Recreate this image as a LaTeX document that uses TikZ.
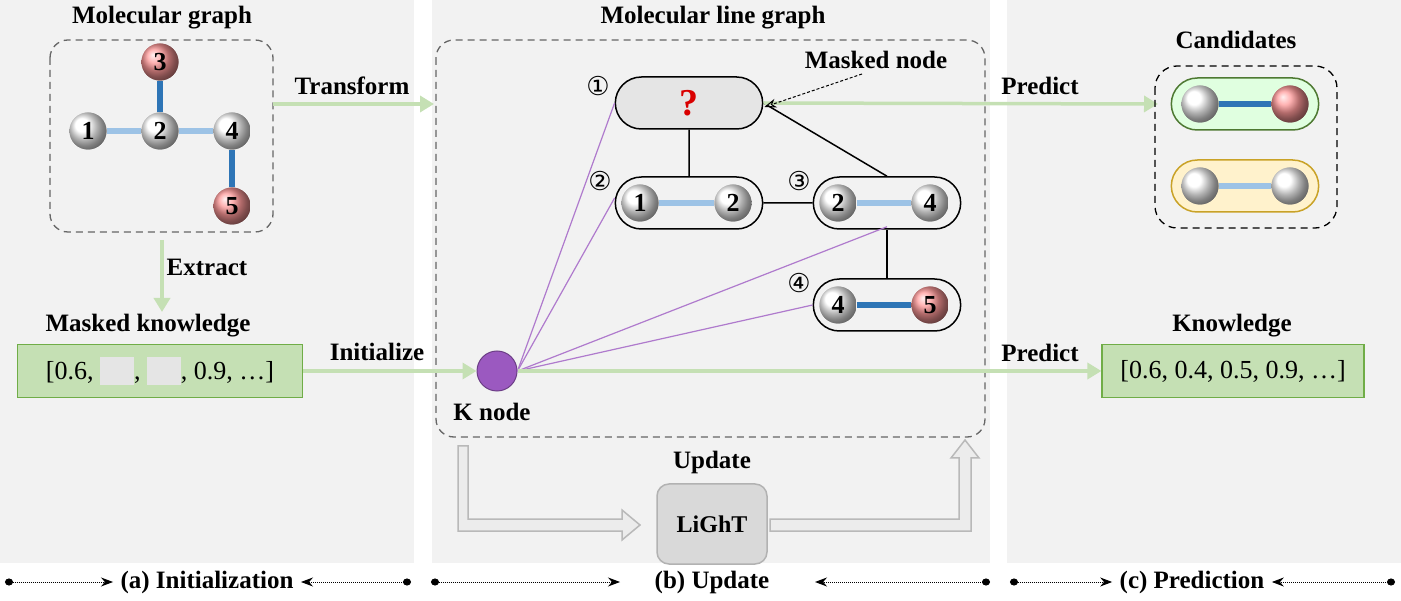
\documentclass[tikz,border=0pt]{standalone}
\usepackage{fontspec}
\setmainfont{Liberation Serif}
\newfontfamily\circfont{DejaVu Sans}
\usetikzlibrary{arrows.meta,positioning,shapes}

\definecolor{panelgray}{HTML}{F2F2F2}
\definecolor{bondlight}{HTML}{9DC3E6}
\definecolor{bonddark}{HTML}{2E75B6}
\definecolor{flowgreen}{HTML}{C5E0B4}
\definecolor{boxgreen}{HTML}{70AD47}
\definecolor{kpurple}{HTML}{9B59C0}
\definecolor{candyellow}{HTML}{FFF2CC}
\definecolor{candgold}{HTML}{C9A227}

\tikzset{
  title/.style={font=\fontsize{25}{28}\selectfont\bfseries},
  atom/.style={circle, minimum size=37pt, inner sep=0pt, shading=ball, ball color=white,
    font=\fontsize{26}{28}\selectfont\bfseries},
  oatom/.style={atom, ball color=red!40!white},
  lbond/.style={line width=6pt, bondlight},
  dbond/.style={line width=6pt, bonddark},
  pill/.style={rounded rectangle, draw, line width=1.5pt, minimum width=154pt, minimum height=52pt},
  flow/.style={line width=3.5pt, flowgreen, -{Triangle[length=14pt,width=16pt]}},
  kbox/.style={draw=boxgreen, line width=1.2pt, fill=flowgreen, minimum height=53pt,
    font=\fontsize{26}{30}\selectfont},
  circnum/.style={font=\circfont\fontsize{26}{28}\selectfont},
  panel/.style={fill=panelgray, draw=none},
  dashbox/.style={draw=gray!80!black, line width=1.3pt, rounded corners=18pt, dash pattern=on 7pt off 5pt},
  kedge/.style={kpurple!80, line width=1.2pt},
  dotarrow/.style={densely dotted, line width=1pt, {Circle[length=8pt,width=7pt,sep=0pt]}-{Stealth[length=12pt,width=9pt]}},
  hollow/.style={fill=gray!15, draw=gray!55, line width=1.5pt, line join=miter}
}
\newcommand{\blank}{\textcolor{gray!20}{\rule[-5pt]{34pt}{28pt}}}

\begin{document}
\begin{tikzpicture}[x=1pt,y=-1pt]
\useasboundingbox (0,0) rectangle (1401,601);

% panels
\fill[panel] (0,0) rectangle (414,563);
\fill[panel] (432,0) rectangle (990,563);
\fill[panel] (1007,0) rectangle (1401,563);

% (a) molecular graph
\node[title] (tmol) at (162,18) {Molecular graph};
\draw[dashbox] (50,40) rectangle (273,232);
\node[atom] (a1) at (88,131) {1};
\node[atom] (a2) at (160,131) {2};
\node[oatom] (a3) at (160,62) {3};
\node[atom] (a4) at (232,131) {4};
\node[oatom] (a5) at (232,206) {5};
\draw[lbond] (a1) -- (a2);
\draw[lbond] (a2) -- (a4);
\draw[dbond] (a2) -- (a3);
\draw[dbond] (a4) -- (a5);
\node[oatom] at (a3) {3};
\node[oatom] at (a5) {5};
\node[atom] at (a1) {1};
\node[atom] at (a2) {2};
\node[atom] at (a4) {4};

\node[title] (tmask) at (148,326) {Masked knowledge};
\node[kbox, minimum width=285pt] (mk) at (160,371) {[0.6, \blank, \blank, 0.9, \ldots]};
\coordinate (gb) at (273,104);
\draw[flow] (162,240) -- (162,312);
\node[title] at (207,267) {Extract};

% (b) line graph
\node[title] (tline) at (713,18) {Molecular line graph};
\draw[dashbox] (436,40) rectangle (985,437);
\node[pill, fill=gray!20] (m1) at (689,103) {\textcolor{red!85!black}{\fontsize{38}{38}\selectfont\bfseries ?}};
\node[pill] (m2) at (689,203) {};
\node[pill] (m3) at (887,203) {};
\node[pill] (m4) at (887,305) {};
\node[atom] (b1) at (640,203) {};
\node[atom] (b2) at (733,203) {};
\node[atom] (c2) at (838,203) {};
\node[atom] (c4) at (930,203) {};
\node[atom] (d4) at (838,305) {};
\node[oatom] (d5) at (930,305) {};
\draw[lbond] (b1) -- (b2);
\draw[lbond] (c2) -- (c4);
\draw[dbond] (d4) -- (d5);
\node[atom] at (b1) {1};
\node[atom] at (b2) {2};
\node[atom] at (c2) {2};
\node[atom] at (c4) {4};
\node[atom] at (d4) {4};
\node[oatom] at (d5) {5};
\node[circnum] at (598,86) {①};
\node[circnum] at (600,181) {②};
\node[circnum] at (799,181) {③};
\node[circnum] at (799,283) {④};
\draw[line width=1.5pt] (m1) -- (m2);
\draw[line width=1.5pt] (m1.east) -- (m3.north);
\draw[line width=1.5pt] (m2) -- (m3);
\draw[line width=1.5pt] (m3) -- (m4);

\node[circle, draw=kpurple!70!black, fill=kpurple, line width=1pt, minimum size=40pt, inner sep=0pt] (kn) at (497,371) {};
\node[title] at (492,412) {K node};
\draw[kedge] (kn.east) -- (m1.west);
\draw[kedge] (kn.east) -- ([yshift=5pt]m2.west);
\draw[kedge] (kn.east) -- ([yshift=3pt]m3.south);
\draw[kedge] (kn.east) -- (m4.west);

% flows between panels
\draw[flow] (gb) -- (434,104);
\node[title] at (352,86) {Transform};
\draw[flow] (mk.east) -- (kn.west);
\node[title] at (377,352) {Initialize};
\draw[flow] (m1.east) -- (1158,104);
\node[title] at (1040,86) {Predict};

\node[title] (tmn) at (876,60) {Masked node};
\draw[densely dashed, line width=1pt, -{Stealth[length=12pt,width=9pt,open]}] (862,74) -- ([xshift=1pt,yshift=-4pt]m1.east);

% update loop
\node[title] at (712,462) {Update};
\node[draw=gray!60, fill=gray!30, line width=1.5pt, rounded corners=12pt, minimum width=110pt,
  minimum height=80pt, font=\fontsize{24}{28}\selectfont\bfseries] (light) at (712,524) {LiGhT};
\draw[hollow] (458,446) -- (468,446) -- (468,519) -- (622,519) -- (622,510) -- (640,525)
  -- (622,540) -- (622,531) -- (458,531) -- cycle;
\draw[hollow] (770,519) -- (959,519) -- (959,458) -- (951,458) -- (965,440) -- (979,458)
  -- (971,458) -- (971,531) -- (770,531) -- cycle;

% (c) prediction
\node[title] (tcand) at (1236,40) {Candidates};
\draw[dashbox, draw=black, rounded corners=22pt] (1155,66) rectangle (1337,228);
\node[pill, draw=boxgreen!70!black, fill=green!12, line width=1.5pt] (p1) at (1245,104) {};
\node[pill, draw=candgold, fill=candyellow, line width=1.5pt] (p2) at (1245,186) {};
\node[atom] (e1) at (1200,104) {};
\node[oatom] (e2) at (1290,104) {};
\node[atom] (f1) at (1200,186) {};
\node[atom] (f2) at (1290,186) {};
\draw[dbond] (e1) -- (e2);
\draw[lbond] (f1) -- (f2);
\node[atom] at (e1) {};
\node[oatom] at (e2) {};
\node[atom] at (f1) {};
\node[atom] at (f2) {};

\node[title] (tknow) at (1232,326) {Knowledge};
\node[kbox, minimum width=262pt] (kw) at (1233,371) {[0.6, 0.4, 0.5, 0.9, \ldots]};
\draw[flow] (kn.east) -- (kw.west);
\node[title] at (1040,353) {Predict};

% captions
\node[title] (ca) at (207,582) {(a) Initialization};
\node[title] (cb) at (712,582) {(b) Update};
\node[title] (cc) at (1192,582) {(c) Prediction};
\draw[dotarrow] (5,582) -- ([xshift=-4pt]ca.west);
\draw[dotarrow] (411,582) -- ([xshift=4pt]ca.east);
\draw[dotarrow] (431,582) -- (620,582);
\draw[dotarrow] (990,582) -- (815,582);
\draw[dotarrow] (1010,582) -- ([xshift=-4pt]cc.west);
\draw[dotarrow] (1395,582) -- ([xshift=4pt]cc.east);
\end{tikzpicture}
\end{document}
